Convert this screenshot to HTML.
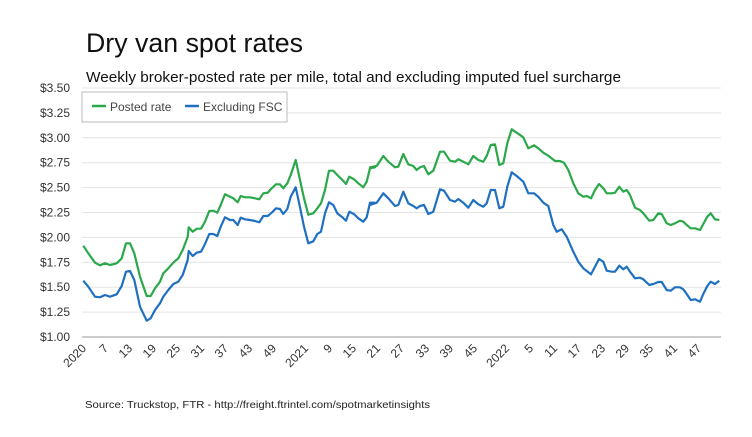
<!DOCTYPE html>
<html><head><meta charset="utf-8"><style>
html,body{margin:0;padding:0;background:#fff;}
svg{display:block;font-family:"Liberation Sans",sans-serif;}
</style></head><body>
<svg id="s" width="752" height="437" viewBox="0 0 752 437" xmlns="http://www.w3.org/2000/svg">
<rect width="752" height="437" fill="#fff"/>
<text x="86" y="52" font-size="27" fill="#111" textLength="217" lengthAdjust="spacingAndGlyphs">Dry van spot rates</text>
<text x="86" y="82" font-size="15" fill="#111" textLength="535" lengthAdjust="spacingAndGlyphs">Weekly broker-posted rate per mile, total and excluding imputed fuel surcharge</text>
<g id="grid"></g>
<g id="lab" font-size="12" fill="#333"></g>
<rect x="82" y="92" width="205" height="30" fill="#fff" stroke="#bbb"/>
<line x1="92" y1="106" x2="106" y2="106" stroke="#2aa84a" stroke-width="2.5"/>
<text x="110" y="111" font-size="12" fill="#444">Posted rate</text>
<line x1="185" y1="106" x2="199" y2="106" stroke="#1f70c1" stroke-width="2.5"/>
<text x="203" y="111" font-size="12" fill="#444">Excluding FSC</text>
<polyline id="g" fill="none" stroke="#2aa84a" stroke-width="2.2" stroke-linejoin="round"/>
<polyline id="b" fill="none" stroke="#1f70c1" stroke-width="2.2" stroke-linejoin="round"/>
<text x="85" y="408" font-size="10.5" fill="#222" textLength="345" lengthAdjust="spacingAndGlyphs">Source: Truckstop, FTR - http://freight.ftrintel.com/spotmarketinsights</text>
</svg>
<script>
var NS="http://www.w3.org/2000/svg";
function el(t,a,p){var e=document.createElementNS(NS,t);for(var k in a)e.setAttribute(k,a[k]);document.getElementById(p).appendChild(e);return e;}
var vals=["$3.50","$3.25","$3.00","$2.75","$2.50","$2.25","$2.00","$1.75","$1.50","$1.25","$1.00"];
for(var i=0;i<11;i++){var y=88+i*24.9;
 el("line",{x1:82,x2:721,y1:y,y2:y,stroke:i==10?"#bbb":"#e4e4e4","stroke-width":i==10?1.5:1},"grid");
 var t=el("text",{x:70,y:y+4,"text-anchor":"end"},"lab");t.textContent=vals[i];}
var xl=[["2020",87],["7",109],["13",133],["19",157],["25",181],["31",205],["37",229],["43",253],["49",277],["2021",309],["9",333],["15",357],["21",381],["27",405],["33",430],["39",454],["45",478],["2022",510],["5",534],["11",558],["17",582],["23",606],["29",630],["35",654],["41",678],["47",702]];
xl.forEach(function(l){var t=el("text",{x:l[1],y:349,"text-anchor":"end",transform:"rotate(-45 "+l[1]+" 349)"},"lab");t.textContent=l[0];});
var g1=[[250,497],[265,520],[285,548],[300,556],[315,550],[330,555],[350,550],[365,535],[378,490],[390,490],[403,520],[420,590],[440,648],[452,648],[465,625],[480,605],[490,580],[505,565],[520,548],[535,535],[548,510],[563,470],[566,442],[578,455],[590,446],[603,446],[615,425],[628,393],[640,392],[652,398],[662,375],[675,343],[690,350],[700,355],[713,367],[722,348],[735,352],[750,352],[765,355],[778,358],[790,340],[803,338],[815,325],[828,313],[840,313],[850,325],[862,310],[872,285],[887,240],[898,290],[912,355],[925,404],[940,400],[952,385],[963,370],[975,330],[987,272],[1000,272],[1012,285],[1025,298],[1038,312],[1048,290],[1062,298],[1075,310],[1090,322],[1100,305],[1110,265],[1125,262]];
var g2=[[0,262],[20,258],[40,228],[55,245],[75,262],[85,260],[100,222],[115,253],[130,258],[140,270],[150,262],[162,258],[175,283],[190,272],[210,215],[222,215],[240,242],[255,245],[265,238],[280,245],[295,253],[310,228],[325,240],[340,245],[350,228],[362,195],[375,193],[388,255],[400,250],[412,190],[425,148],[440,158],[460,172],[475,205],[492,196],[505,205],[520,218],[535,227],[555,243],[570,243],[582,248],[595,270],[610,310],[625,340],[640,350],[650,348],[663,355],[675,330],[687,312],[700,325],[710,340],[725,340],[735,338],[748,320],[760,335],[770,330],[780,345],[795,383],[810,390],[820,400],[838,422],[850,420],[865,400],[875,402],[890,430],[902,435],[915,430],[930,422],[940,425],[950,435],[962,445],[975,445],[990,450],[1000,432],[1012,410],[1022,400],[1035,418],[1048,420]];
var b1=[[250,602],[265,620],[285,650],[300,652],[315,645],[330,650],[350,643],[365,618],[378,575],[390,573],[403,600],[420,680],[440,722],[452,715],[465,690],[480,670],[490,650],[505,630],[520,612],[535,605],[548,585],[563,540],[566,513],[578,528],[590,518],[603,515],[615,492],[628,462],[640,462],[652,468],[662,440],[675,412],[690,420],[700,420],[713,435],[722,413],[735,418],[750,420],[765,423],[778,427],[790,408],[803,408],[815,398],[828,385],[840,387],[850,402],[862,387],[872,350],[887,322],[898,372],[912,440],[925,490],[940,484],[952,462],[963,455],[975,400],[987,367],[1000,375],[1012,400],[1025,410],[1038,422],[1048,395],[1062,402],[1075,415],[1090,425],[1100,412],[1110,368],[1125,368]];
var b2=[[0,375],[20,368],[40,340],[55,355],[75,378],[85,375],[100,335],[115,370],[130,378],[140,385],[150,378],[162,375],[175,402],[190,395],[210,328],[222,332],[240,360],[255,365],[265,357],[280,368],[295,383],[310,360],[325,373],[340,380],[350,370],[362,330],[375,330],[388,385],[400,380],[412,320],[425,277],[440,288],[460,305],[475,340],[492,340],[505,350],[520,368],[535,378],[550,435],[560,455],[575,448],[590,470],[610,515],[625,545],[640,565],[650,573],[663,583],[675,560],[687,537],[700,545],[710,572],[725,575],[735,575],[748,557],[760,568],[770,560],[780,575],[795,595],[810,593],[820,598],[838,615],[850,612],[865,606],[875,606],[890,630],[902,632],[915,622],[930,622],[940,628],[950,642],[962,660],[975,658],[990,665],[1000,642],[1012,618],[1022,605],[1035,612],[1048,602]];
function pts(a,c){var s=[];a.forEach(function(p){s.push((p[0]/3).toFixed(1)+","+(80+p[1]/3).toFixed(1));});c.forEach(function(p){s.push((370+p[0]/3).toFixed(1)+","+(80+p[1]/3).toFixed(1));});return s.join(" ");}
document.getElementById("g").setAttribute("points",pts(g1,g2));
document.getElementById("b").setAttribute("points",pts(b1,b2));
</script>
</body></html>
